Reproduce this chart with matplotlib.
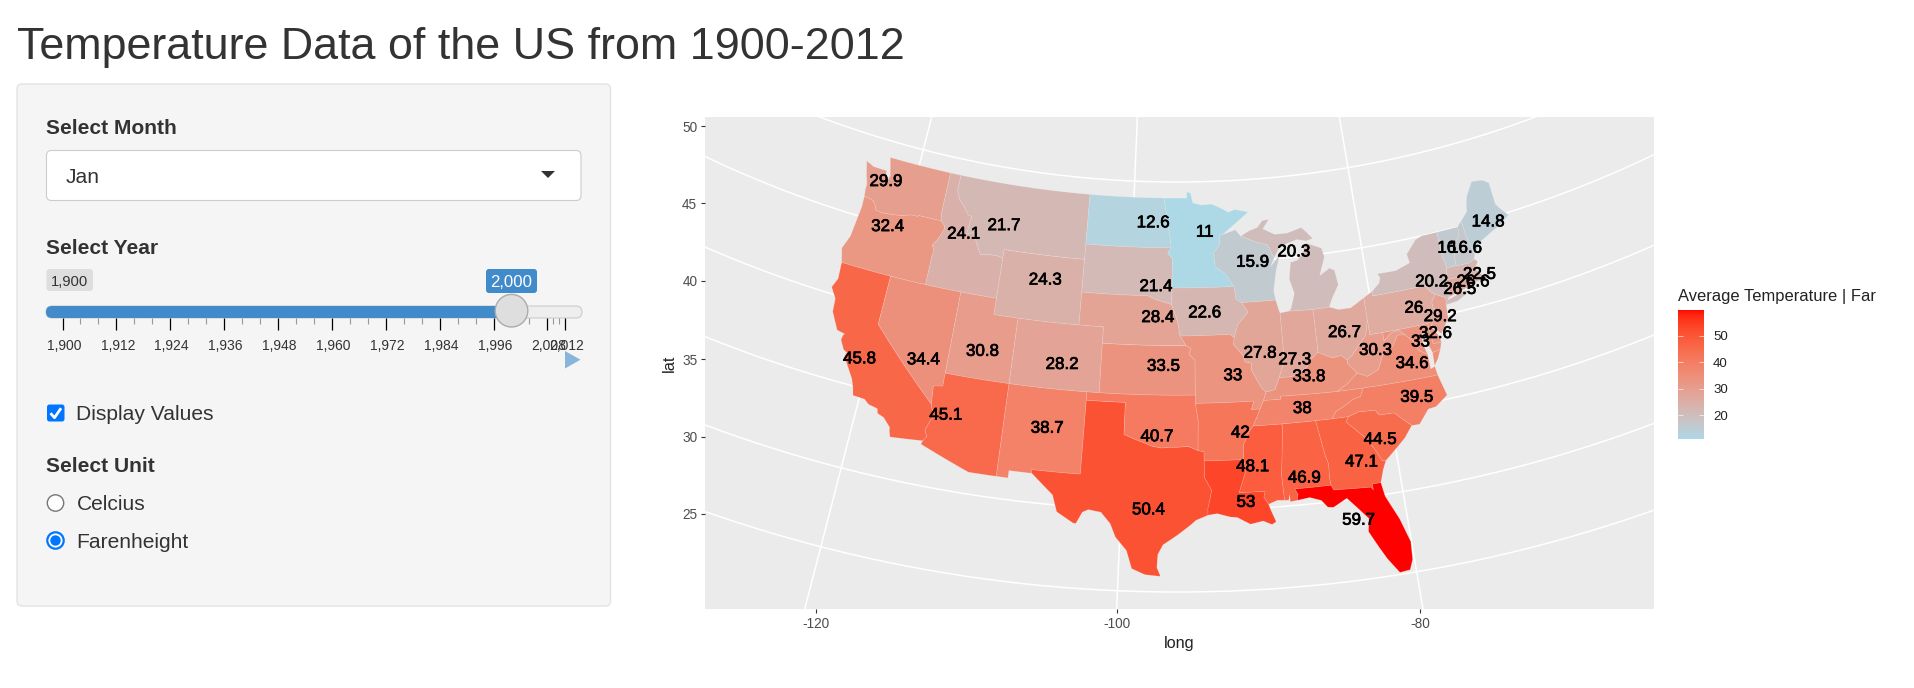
"""Shiny app screenshot: US temperature map (Albers) with its sidebar controls."""
import matplotlib
matplotlib.use("Agg")
import matplotlib.patheffects as pe
import matplotlib.pyplot as plt
import numpy as np
from matplotlib.colors import ListedColormap, Normalize
from matplotlib.patches import Circle, FancyBboxPatch, Polygon

plt.rcParams["font.family"] = ["Liberation Sans", "DejaVu Sans"]

W, H = 1914, 688

# ---- data ----------------------------------------------------------------
STATES = ["WA", "OR", "ID", "MT", "WY", "ND", "SD", "NE", "CA", "NV", "UT", "CO",
          "KS", "MN", "WI", "MI", "IA", "IL", "IN", "OH", "WV", "MO", "KY", "VA",
          "MD", "DE", "NJ", "PA", "NY", "ME", "VT", "NH", "MA", "RI", "CT", "AZ",
          "NM", "TX", "OK", "AR", "TN", "NC", "SC", "GA", "AL", "MS", "LA", "FL"]
TEMP_F = [29.9, 32.4, 24.1, 21.7, 24.3, 12.6, 21.4, 28.4, 45.8, 34.4, 30.8, 28.2,
          33.5, 11, 15.9, 20.3, 22.6, 27.8, 27.3, 26.7, 30.3, 33, 33.8, 34.6,
          33, 32.6, 29.2, 26, 20.2, 14.8, 16, 16.6, 22.5, 26.6, 26.5, 45.1,
          38.7, 50.4, 40.7, 42, 38, 39.5, 44.5, 47.1, 46.9, 48.1, 53, 59.7]
# label anchors in projected map units
LABEL_X = [-.311, -.309, -.228, -.185, -.141, -.026, -.023, -.021, -.339, -.271, -.208, -.123,
           -.015, .029, .080, .124, .029, .088, .125, .178, .211, .059, .140, .250,
           .259, .275, .280, .252, .271, .331, .287, .307, .322, .315, .301, -.247,
           -.139, -.031, -.022, .067, .133, .255, .216, .196, .135, .080, .073, .193]
LABEL_Y = [.219, .171, .163, .172, .114, .175, .107, .074, .030, .029, .038, .024,
           .022, .165, .133, .144, .079, .036, .029, .058, .039, .012, .011, .025,
           .048, .057, .075, .084, .112, .176, .148, .148, .120, .112, .104, -.030,
           -.044, -.131, -.053, -.049, -.023, -.011, -.056, -.080, -.097, -.085, -.123, -.142]

# state outlines, (lon, lat)
OUTLINES = {
    "WA": [[(-124.0, 46.25), (-124.1, 46.7), (-124.1, 47.0), (-124.4, 47.6), (-124.73, 48.38), (-124.0, 48.17),
            (-123.2, 48.15), (-122.75, 48.15), (-122.6, 47.6), (-122.45, 47.5), (-122.3, 47.9), (-122.5, 48.4),
            (-122.75, 49.0), (-117.03, 49.0), (-117.04, 46.42), (-116.92, 46.0), (-118.98, 46.0), (-119.0, 45.93),
            (-119.6, 45.92), (-120.5, 45.72), (-121.2, 45.65), (-122.2, 45.58), (-122.75, 45.65), (-122.8, 45.85),
            (-123.15, 46.15), (-123.4, 46.2)]],
    "OR": [[(-124.0, 46.25), (-123.4, 46.2), (-123.15, 46.15), (-122.8, 45.85), (-122.75, 45.65), (-122.2, 45.58),
            (-121.2, 45.65), (-120.5, 45.72), (-119.6, 45.92), (-119.0, 45.93), (-118.98, 46.0), (-116.92, 46.0),
            (-116.55, 45.75), (-116.47, 45.6), (-116.7, 45.1), (-116.85, 44.85), (-117.2, 44.45), (-117.05, 44.23),
            (-116.95, 44.1), (-117.03, 43.8), (-117.03, 42.0), (-124.21, 42.0), (-124.55, 42.84), (-124.15, 43.7),
            (-124.05, 44.7), (-123.95, 45.6)]],
    "ID": [[(-117.03, 49.0), (-116.05, 49.0), (-116.05, 48.0), (-115.7, 47.5), (-115.3, 47.25), (-114.7, 46.7),
            (-114.35, 46.65), (-114.5, 45.55), (-113.95, 45.7), (-113.45, 45.05), (-113.0, 44.45), (-112.3, 44.55),
            (-111.5, 44.55), (-111.05, 44.48), (-111.05, 42.0), (-117.03, 42.0), (-117.03, 43.8), (-116.95, 44.1),
            (-117.05, 44.23), (-117.2, 44.45), (-116.85, 44.85), (-116.7, 45.1), (-116.47, 45.6), (-116.55, 45.75),
            (-116.92, 46.0), (-117.04, 46.42)]],
    "MT": [[(-116.05, 49.0), (-104.05, 49.0), (-104.05, 45.0), (-111.05, 45.0), (-111.05, 44.48), (-111.5, 44.55),
            (-112.3, 44.55), (-113.0, 44.45), (-113.45, 45.05), (-113.95, 45.7), (-114.5, 45.55), (-114.35, 46.65),
            (-114.7, 46.7), (-115.3, 47.25), (-115.7, 47.5), (-116.05, 48.0)]],
    "WY": [[(-111.05, 45.0), (-104.05, 45.0), (-104.05, 41.0), (-111.05, 41.0)]],
    "ND": [[(-104.05, 49.0), (-97.23, 49.0), (-97.1, 48.4), (-96.85, 47.5), (-96.6, 46.3), (-96.56, 45.94),
            (-104.05, 45.94)]],
    "SD": [[(-104.05, 45.94), (-96.56, 45.94), (-96.85, 45.6), (-96.45, 45.3), (-96.45, 43.5), (-96.5, 42.49),
            (-97.9, 42.8), (-98.5, 43.0), (-104.05, 43.0)]],
    "NE": [[(-104.05, 43.0), (-98.5, 43.0), (-97.9, 42.8), (-96.5, 42.49), (-96.1, 41.7), (-95.9, 41.2),
            (-95.85, 40.7), (-95.31, 40.0), (-102.05, 40.0), (-102.05, 41.0), (-104.05, 41.0)]],
    "CA": [[(-124.21, 42.0), (-120.0, 42.0), (-120.0, 39.0), (-114.63, 35.0), (-114.57, 34.8), (-114.14, 34.3),
            (-114.43, 34.08), (-114.72, 33.4), (-114.5, 33.0), (-114.72, 32.72), (-117.12, 32.53), (-117.25, 32.85),
            (-117.3, 33.1), (-117.9, 33.6), (-118.4, 33.75), (-118.5, 34.03), (-119.2, 34.15), (-119.6, 34.4),
            (-120.5, 34.45), (-120.65, 34.9), (-120.9, 35.4), (-121.9, 36.6), (-121.8, 36.85), (-122.1, 36.97),
            (-122.5, 37.5), (-122.45, 37.8), (-122.35, 37.9), (-123.0, 38.0), (-123.75, 39.0), (-123.85, 39.8),
            (-124.4, 40.4), (-124.1, 41.0)]],
    "NV": [[(-120.0, 42.0), (-114.04, 42.0), (-114.04, 36.2), (-114.74, 36.1), (-114.63, 35.0), (-120.0, 39.0)]],
    "UT": [[(-114.04, 42.0), (-111.05, 42.0), (-111.05, 41.0), (-109.05, 41.0), (-109.05, 37.0), (-114.04, 37.0)]],
    "CO": [[(-109.05, 41.0), (-102.05, 41.0), (-102.05, 37.0), (-109.05, 37.0)]],
    "KS": [[(-102.05, 40.0), (-95.31, 40.0), (-94.9, 39.8), (-95.1, 39.5), (-94.61, 39.1), (-94.62, 37.0),
            (-102.05, 37.0)]],
    "MN": [[(-97.23, 49.0), (-95.15, 49.0), (-95.15, 49.38), (-94.8, 49.3), (-94.6, 48.7), (-93.8, 48.55),
            (-92.9, 48.6), (-92.0, 48.3), (-91.4, 48.05), (-90.8, 48.2), (-89.6, 48.0), (-90.9, 47.3), (-92.0, 46.7),
            (-92.29, 46.66), (-92.29, 46.1), (-92.85, 45.6), (-92.75, 44.75), (-91.9, 44.3), (-91.22, 43.5),
            (-96.45, 43.5), (-96.45, 45.3), (-96.85, 45.6), (-96.56, 45.94), (-96.6, 46.3), (-96.85, 47.5),
            (-97.1, 48.4)]],
    "WI": [[(-92.29, 46.66), (-92.0, 46.7), (-90.85, 46.95), (-90.4, 46.55), (-89.1, 46.13), (-88.1, 45.9),
            (-87.8, 45.35), (-87.6, 45.1), (-88.0, 44.55), (-87.1, 45.25), (-87.55, 44.3), (-87.9, 43.1),
            (-87.8, 42.5), (-90.65, 42.5), (-91.1, 42.7), (-91.22, 43.5), (-91.9, 44.3), (-92.75, 44.75),
            (-92.85, 45.6), (-92.29, 46.1)]],
    "MI": [[(-90.4, 46.55), (-89.6, 46.85), (-88.9, 47.0), (-88.4, 47.4), (-87.8, 47.45), (-88.4, 46.9),
            (-87.4, 46.5), (-86.3, 46.5), (-85.0, 46.75), (-84.6, 46.45), (-84.1, 46.0), (-84.7, 45.9),
            (-85.5, 46.05), (-86.5, 45.85), (-87.1, 45.65), (-87.6, 45.1), (-87.8, 45.35), (-88.1, 45.9),
            (-89.1, 46.13)],
           [(-86.8, 41.76), (-84.8, 41.7), (-83.45, 41.73), (-83.1, 42.25), (-82.45, 43.0), (-82.6, 43.9),
            (-83.0, 44.07), (-83.9, 43.7), (-83.3, 44.8), (-83.45, 45.35), (-84.75, 45.78), (-85.05, 45.3),
            (-85.6, 44.8), (-86.25, 44.7), (-86.5, 43.7), (-86.2, 42.8), (-86.6, 41.9)]],
    "IA": [[(-96.45, 43.5), (-91.22, 43.5), (-91.1, 42.7), (-90.65, 42.5), (-90.15, 41.9), (-91.05, 41.2),
            (-91.42, 40.38), (-91.73, 40.61), (-95.77, 40.58), (-95.85, 40.7), (-95.9, 41.2), (-96.1, 41.7),
            (-96.5, 42.49)]],
    "IL": [[(-90.65, 42.5), (-87.8, 42.5), (-87.6, 41.85), (-87.53, 41.7), (-87.53, 39.35), (-87.6, 38.7),
            (-88.05, 37.8), (-88.45, 37.1), (-89.15, 37.0), (-89.5, 37.3), (-90.2, 38.4), (-90.15, 38.8),
            (-90.65, 38.9), (-90.75, 39.25), (-91.5, 40.0), (-91.42, 40.38), (-91.05, 41.2), (-90.15, 41.9)]],
    "IN": [[(-87.53, 41.7), (-86.8, 41.76), (-84.8, 41.7), (-84.8, 39.1), (-85.4, 38.73), (-85.8, 38.28),
            (-86.5, 37.95), (-87.1, 37.8), (-88.05, 37.8), (-87.6, 38.7), (-87.53, 39.35)]],
    "OH": [[(-84.8, 41.7), (-83.45, 41.73), (-82.7, 41.5), (-81.7, 41.5), (-80.52, 41.98), (-80.52, 40.64),
            (-80.85, 39.7), (-81.75, 39.0), (-82.2, 38.6), (-82.6, 38.4), (-83.0, 38.72), (-83.7, 38.65),
            (-84.25, 38.85), (-84.8, 39.1)]],
    "WV": [[(-81.97, 37.54), (-81.22, 37.24), (-80.3, 37.55), (-79.65, 38.55), (-78.87, 38.77), (-78.35, 39.4),
            (-77.72, 39.32), (-78.2, 39.68), (-78.8, 39.6), (-79.48, 39.2), (-79.48, 39.72), (-80.52, 39.72),
            (-80.52, 40.64), (-80.85, 39.7), (-81.75, 39.0), (-82.2, 38.6), (-82.6, 38.4), (-82.6, 38.17)]],
    "MO": [[(-95.77, 40.58), (-91.73, 40.61), (-91.42, 40.38), (-91.5, 40.0), (-90.75, 39.25), (-90.65, 38.9),
            (-90.15, 38.8), (-90.2, 38.4), (-89.5, 37.3), (-89.15, 37.0), (-89.4, 36.5), (-89.7, 36.0),
            (-90.37, 36.0), (-90.15, 36.5), (-94.62, 36.5), (-94.62, 37.0), (-94.61, 39.1), (-95.1, 39.5),
            (-94.9, 39.8), (-95.31, 40.0)]],
    "KY": [[(-89.15, 37.0), (-89.4, 36.5), (-88.07, 36.5), (-88.07, 36.68), (-83.68, 36.6), (-82.85, 36.98),
            (-81.97, 37.54), (-82.6, 38.17), (-82.6, 38.4), (-83.0, 38.72), (-83.7, 38.65), (-84.25, 38.85),
            (-84.8, 39.1), (-85.4, 38.73), (-85.8, 38.28), (-86.5, 37.95), (-87.1, 37.8), (-88.05, 37.8),
            (-88.45, 37.1)]],
    "VA": [[(-83.68, 36.6), (-81.68, 36.59), (-75.87, 36.55), (-75.95, 37.1), (-76.3, 37.0), (-76.3, 37.9),
            (-76.95, 38.25), (-77.05, 38.75), (-77.5, 39.1), (-77.72, 39.32), (-78.35, 39.4), (-78.87, 38.77),
            (-79.65, 38.55), (-80.3, 37.55), (-81.22, 37.24), (-81.97, 37.54), (-82.85, 36.98)],
           [(-75.25, 38.03), (-75.9, 37.95), (-75.95, 37.15), (-75.6, 37.5)]],
    "MD": [[(-79.48, 39.72), (-75.8, 39.72), (-75.7, 38.46), (-75.05, 38.45), (-75.25, 38.03), (-75.9, 37.95),
            (-76.2, 38.7), (-76.1, 39.35), (-76.5, 39.1), (-76.45, 38.4), (-76.3, 37.9), (-76.95, 38.25),
            (-77.05, 38.75), (-77.5, 39.1), (-77.72, 39.32), (-78.2, 39.68), (-78.8, 39.6), (-79.48, 39.2)]],
    "DE": [[(-75.8, 39.72), (-75.4, 39.8), (-75.55, 39.5), (-75.1, 38.8), (-75.05, 38.45), (-75.7, 38.46)]],
    "NJ": [[(-74.7, 41.36), (-73.9, 41.0), (-74.0, 40.6), (-74.1, 39.75), (-74.9, 38.95), (-75.5, 39.5),
            (-75.4, 39.8), (-74.75, 40.2), (-75.1, 40.6), (-75.1, 40.95)]],
    "PA": [[(-80.52, 41.98), (-79.76, 42.27), (-79.76, 42.0), (-75.35, 42.0), (-75.05, 41.6), (-74.7, 41.36),
            (-75.1, 40.95), (-75.1, 40.6), (-74.75, 40.2), (-75.4, 39.8), (-75.8, 39.72), (-80.52, 39.72)]],
    "NY": [[(-79.76, 42.27), (-79.05, 42.7), (-78.9, 43.0), (-79.05, 43.27), (-77.5, 43.25), (-76.2, 43.55),
            (-76.3, 44.1), (-75.3, 44.85), (-74.7, 45.0), (-73.35, 45.0), (-73.4, 43.6), (-73.25, 42.75),
            (-73.5, 42.05), (-73.5, 41.3), (-73.65, 41.0), (-73.75, 40.85), (-72.3, 41.15), (-71.9, 41.05),
            (-73.0, 40.65), (-74.0, 40.58), (-73.9, 41.0), (-74.7, 41.36), (-75.05, 41.6), (-75.35, 42.0),
            (-79.76, 42.0)]],
    "ME": [[(-71.08, 45.3), (-70.4, 45.75), (-70.25, 46.2), (-70.0, 46.7), (-69.25, 47.45), (-68.3, 47.35),
            (-67.8, 47.07), (-67.8, 45.7), (-67.45, 45.3), (-67.0, 44.85), (-68.0, 44.4), (-69.0, 44.1),
            (-70.0, 43.75), (-70.7, 43.1), (-71.0, 44.3)]],
    "VT": [[(-73.35, 45.0), (-71.5, 45.01), (-71.55, 44.5), (-72.05, 44.1), (-72.35, 43.5), (-72.45, 42.73),
            (-73.25, 42.75), (-73.4, 43.6)]],
    "NH": [[(-71.5, 45.01), (-71.08, 45.3), (-71.0, 44.3), (-70.7, 43.1), (-70.85, 42.87), (-71.3, 42.7),
            (-72.45, 42.73), (-72.35, 43.5), (-72.05, 44.1), (-71.55, 44.5)]],
    "MA": [[(-73.25, 42.75), (-71.3, 42.7), (-70.85, 42.87), (-70.6, 42.65), (-71.0, 42.3), (-70.55, 41.8),
            (-70.0, 41.78), (-70.0, 42.05), (-69.95, 41.68), (-70.6, 41.55), (-71.15, 41.5), (-71.38, 42.02),
            (-71.8, 42.02), (-73.5, 42.05)]],
    "RI": [[(-71.8, 42.02), (-71.38, 42.02), (-71.15, 41.5), (-71.85, 41.32)]],
    "CT": [[(-73.5, 42.05), (-71.8, 42.02), (-71.85, 41.32), (-73.65, 41.0), (-73.5, 41.3)]],
    "AZ": [[(-114.04, 37.0), (-109.05, 37.0), (-109.05, 31.33), (-111.07, 31.33), (-114.81, 32.5), (-114.72, 32.72),
            (-114.5, 33.0), (-114.72, 33.4), (-114.43, 34.08), (-114.14, 34.3), (-114.57, 34.8), (-114.63, 35.0),
            (-114.74, 36.1), (-114.04, 36.2)]],
    "NM": [[(-109.05, 37.0), (-103.0, 37.0), (-103.04, 32.0), (-106.62, 32.0), (-106.53, 31.78), (-108.2, 31.78),
            (-108.2, 31.33), (-109.05, 31.33)]],
    "TX": [[(-103.0, 36.5), (-100.0, 36.5), (-100.0, 34.56), (-99.2, 34.3), (-98.5, 34.1), (-97.9, 33.9),
            (-97.2, 33.8), (-96.6, 33.85), (-96.0, 33.85), (-95.2, 33.9), (-94.48, 33.64), (-94.04, 33.55),
            (-94.04, 32.0), (-93.55, 31.2), (-93.7, 30.6), (-93.85, 30.1), (-93.85, 29.7), (-94.7, 29.4),
            (-95.1, 29.1), (-96.0, 28.5), (-97.0, 27.9), (-97.35, 27.3), (-97.4, 26.5), (-97.15, 25.96),
            (-98.2, 26.05), (-99.1, 26.4), (-99.5, 27.5), (-100.3, 28.3), (-100.7, 29.1), (-101.4, 29.77),
            (-102.3, 29.88), (-102.7, 29.7), (-103.1, 28.98), (-103.3, 29.0), (-104.5, 29.6), (-104.9, 30.6),
            (-106.53, 31.78), (-106.62, 32.0), (-103.04, 32.0)]],
    "OK": [[(-103.0, 37.0), (-94.62, 37.0), (-94.62, 36.5), (-94.43, 35.4), (-94.48, 33.64), (-95.2, 33.9),
            (-96.0, 33.85), (-96.6, 33.85), (-97.2, 33.8), (-97.9, 33.9), (-98.5, 34.1), (-99.2, 34.3),
            (-100.0, 34.56), (-100.0, 36.5), (-103.0, 36.5)]],
    "AR": [[(-94.62, 36.5), (-90.15, 36.5), (-90.37, 36.0), (-89.7, 36.0), (-90.3, 35.0), (-90.6, 34.7),
            (-91.1, 33.9), (-91.17, 33.0), (-94.04, 33.0), (-94.04, 33.55), (-94.48, 33.64), (-94.43, 35.4)]],
    "TN": [[(-90.3, 35.0), (-88.2, 35.0), (-85.6, 35.0), (-84.32, 35.0), (-84.0, 35.4), (-83.1, 35.75),
            (-82.6, 36.0), (-82.0, 36.1), (-81.68, 36.59), (-83.68, 36.6), (-88.07, 36.68), (-88.07, 36.5),
            (-89.4, 36.5), (-89.7, 36.0)]],
    "NC": [[(-84.32, 35.0), (-83.11, 35.0), (-82.3, 35.2), (-81.05, 35.15), (-80.8, 34.82), (-79.67, 34.8),
            (-78.55, 33.86), (-77.95, 33.85), (-77.1, 34.65), (-76.5, 34.7), (-75.5, 35.25), (-75.87, 36.55),
            (-81.68, 36.59), (-82.0, 36.1), (-82.6, 36.0), (-83.1, 35.75), (-84.0, 35.4)]],
    "SC": [[(-83.11, 35.0), (-82.3, 35.2), (-81.05, 35.15), (-80.8, 34.82), (-79.67, 34.8), (-78.55, 33.86),
            (-79.2, 33.2), (-79.9, 32.7), (-80.85, 32.03), (-81.1, 32.05), (-81.4, 32.6), (-81.9, 33.4),
            (-82.75, 34.2), (-83.35, 34.7)]],
    "GA": [[(-85.6, 35.0), (-83.11, 35.0), (-83.35, 34.7), (-82.75, 34.2), (-81.9, 33.4), (-81.4, 32.6),
            (-81.1, 32.05), (-80.85, 32.03), (-81.15, 31.5), (-81.45, 30.75), (-82.05, 30.75), (-82.05, 30.37),
            (-82.2, 30.57), (-84.86, 30.7), (-85.0, 31.0), (-85.05, 31.5), (-85.0, 32.3), (-85.18, 32.87)]],
    "AL": [[(-88.2, 35.0), (-85.6, 35.0), (-85.18, 32.87), (-85.0, 32.3), (-85.05, 31.5), (-85.0, 31.0),
            (-87.6, 31.0), (-87.4, 30.65), (-87.5, 30.3), (-88.0, 30.25), (-88.0, 30.7), (-88.1, 30.35),
            (-88.4, 30.37), (-88.47, 31.9), (-88.1, 34.9)]],
    "MS": [[(-91.17, 33.0), (-91.1, 33.9), (-90.6, 34.7), (-90.3, 35.0), (-88.2, 35.0), (-88.1, 34.9),
            (-88.47, 31.9), (-88.4, 30.37), (-88.9, 30.4), (-89.55, 30.2), (-89.85, 30.65), (-89.73, 31.0),
            (-91.6, 31.0), (-91.0, 32.4)]],
    "LA": [[(-94.04, 33.0), (-91.17, 33.0), (-91.0, 32.4), (-91.6, 31.0), (-89.73, 31.0), (-89.85, 30.65),
            (-89.55, 30.2), (-89.4, 29.8), (-89.1, 29.1), (-89.4, 28.95), (-90.0, 29.2), (-90.9, 29.05),
            (-91.8, 29.5), (-92.3, 29.55), (-93.2, 29.78), (-93.85, 29.7), (-93.85, 30.1), (-93.7, 30.6),
            (-93.55, 31.2), (-94.04, 32.0)]],
    "FL": [[(-87.6, 31.0), (-85.0, 31.0), (-84.86, 30.7), (-82.2, 30.57), (-82.05, 30.37), (-82.05, 30.75),
            (-81.45, 30.75), (-81.3, 29.9), (-80.55, 28.4), (-80.05, 26.9), (-80.13, 25.8), (-80.4, 25.2),
            (-81.1, 25.13), (-81.8, 26.1), (-82.2, 26.8), (-82.8, 27.9), (-82.65, 28.7), (-83.4, 29.5),
            (-84.0, 30.1), (-85.0, 29.65), (-85.4, 29.7), (-85.8, 30.15), (-86.6, 30.4), (-87.5, 30.3),
            (-87.4, 30.65)]],
}

LON_TICKS = [-120, -100, -80]
LAT_TICKS = [25, 30, 35, 40, 45, 50]
LEGEND_TICKS = [20, 30, 40, 50]
SLIDER_MAJOR = [1900, 1912, 1924, 1936, 1948, 1960, 1972, 1984, 1996, 2008, 2012]
SLIDER_MINOR = [1904, 1908, 1916, 1920, 1928, 1932, 1940, 1944, 1952, 1956, 1964, 1968,
                1976, 1980, 1988, 1992, 2000, 2004, 2009.3, 2010.6]
SLIDER_VALUE = 2000


# ---- albers projection (same parallels as the picture's graticule) --------
N = (np.sin(np.radians(29.5)) + np.sin(np.radians(45.5))) / 2
C = np.cos(np.radians(29.5)) ** 2 + 2 * N * np.sin(np.radians(29.5))
RHO0 = np.sqrt(C - 2 * N * np.sin(np.radians(37.5))) / N


def project(lon, lat):
    lon, lat = np.asarray(lon, float), np.asarray(lat, float)
    rho = np.sqrt(C - 2 * N * np.sin(np.radians(lat))) / N
    theta = np.radians(N * (lon + 96))
    return rho * np.sin(theta), RHO0 - rho * np.cos(theta)


def densify(points, step=0.4):
    # straight borders have to bend with the projection
    pts = list(points) + [points[0]]
    lon, lat = [], []
    for (x0, y0), (x1, y1) in zip(pts[:-1], pts[1:]):
        n = max(int(max(abs(x1 - x0), abs(y1 - y0)) / step), 1)
        lon.extend(x0 + (x1 - x0) * i / n for i in range(n))
        lat.extend(y0 + (y1 - y0) * i / n for i in range(n))
    return lon, lat


# ---- fill colours: ggplot gradient, interpolated in Lab -------------------
WHITE = np.array([0.95047, 1.0, 1.08883])
M = np.array([[0.4124564, 0.3575761, 0.1804375],
              [0.2126729, 0.7151522, 0.0721750],
              [0.0193339, 0.1191920, 0.9503041]])


def to_lab(rgb):
    lin = np.where(rgb > 0.04045, ((rgb + 0.055) / 1.055) ** 2.4, rgb / 12.92)
    t = M @ lin / WHITE
    f = np.where(t > 0.008856, np.cbrt(t), 7.787 * t + 16 / 116)
    return np.array([116 * f[1] - 16, 500 * (f[0] - f[1]), 200 * (f[1] - f[2])])


def from_lab(lab):
    fy = (lab[0] + 16) / 116
    f = np.array([fy + lab[1] / 500, fy, fy - lab[2] / 200])
    t = np.where(f ** 3 > 0.008856, f ** 3, (f - 16 / 116) / 7.787) * WHITE
    lin = np.clip(np.linalg.inv(M) @ t, 0, 1)
    return np.where(lin > 0.0031308, 1.055 * lin ** (1 / 2.4) - 0.055, 12.92 * lin)


low = to_lab(np.array([0xAD, 0xD8, 0xE6]) / 255)
high = to_lab(np.array([1.0, 0.0, 0.0]))
cmap = ListedColormap([from_lab(low + (high - low) * t) for t in np.linspace(0, 1, 256)])
norm = Normalize(min(TEMP_F), max(TEMP_F))

fig = plt.figure(figsize=(W / 100, H / 100), dpi=100, facecolor="white")


def px_axes(left, top, right, bottom, **kw):
    return fig.add_axes([left / W, 1 - bottom / H, (right - left) / W, (bottom - top) / H], **kw)


# ---- sidebar, drawn in screen pixels --------------------------------------
ui = fig.add_axes([0, 0, 1, 1])
ui.set_xlim(0, W)
ui.set_ylim(H, 0)
ui.axis("off")

INK = "#333333"


def box(x0, y0, x1, y1, fc, ec="none", r=5, lw=0.8):
    ui.add_patch(FancyBboxPatch((x0, y0), x1 - x0, y1 - y0, boxstyle=f"round,pad=0,rounding_size={r}",
                                fc=fc, ec=ec, lw=lw))


def label(x, y, s, size=15.1, color=INK, **kw):
    kw.setdefault("va", "center_baseline")
    ui.text(x, y, s, fontsize=size, color=color, **kw)


label(17, 42.5, "Temperature Data of the US from 1900-2012", size=32.3)

box(17, 84, 610.5, 606, "#F5F5F5", "#E3E3E3", lw=1)
label(46.5, 127, "Select Month", weight="bold")
box(46.5, 150.5, 581, 200.5, "white", "#CCCCCC")
label(65.3, 175.5, "Jan")
ui.add_patch(Polygon([(541, 171), (555, 171), (548, 178)], fc=INK, ec="none"))

label(46.5, 246, "Select Year", weight="bold")
box(46.5, 269, 93, 291, "#DEDEDE", r=3)
label(69.8, 280, "1,900", size=10.6, ha="center")
box(486, 269, 537, 293, "#428BCA", r=3)
label(511.5, 281, "2,000", size=12.1, color="white", ha="center")


def slider_x(year):
    return 62.5 + 4.49 * (year - 1900)


handle_x = slider_x(SLIDER_VALUE)
box(46, 306, 582, 318, "#EEEEEE", "#CCCCCC", r=6)
box(46, 306, handle_x, 318, "#428BCA", r=6)
for year in SLIDER_MINOR:
    ui.plot([slider_x(year)] * 2, [318, 324], color="#999999", lw=0.8, solid_capstyle="butt", zorder=2)
for year in SLIDER_MAJOR:
    ui.plot([slider_x(year)] * 2, [318, 330], color="black", lw=0.9, solid_capstyle="butt", zorder=2)
    label(slider_x(year) + 1.5, 344.5, f"{year:,}", size=10, ha="center")
ui.add_patch(Circle((handle_x, 310.7), 16.3, fc="#DEDEDE", ec="#ABABAB", lw=1, zorder=3))
ui.add_patch(Polygon([(565, 351), (580.5, 359.7), (565, 368.5)], fc="#428BCA", ec="none", alpha=0.6))

box(47, 404.5, 64.5, 421.5, "#0075FF", r=2.5)
ui.plot([50.5, 54.5, 61], [413.2, 417.7, 408.2], color="white", lw=2, solid_capstyle="butt")
label(76.5, 413, "Display Values")

label(46.5, 465, "Select Unit", weight="bold")
ui.add_patch(Circle((55.5, 503), 8.2, fc="white", ec="#767676", lw=1))
label(76.5, 503, "Celcius")
ui.add_patch(Circle((55.5, 540.5), 8.2, fc="white", ec="#0075FF", lw=1.6))
ui.add_patch(Circle((55.5, 540.5), 5.2, fc="#0075FF", ec="none"))
label(76.5, 540.5, "Farenheight")

# ---- map ------------------------------------------------------------------
ax = px_axes(705, 117, 1654, 609)
ax.set_facecolor("#EBEBEB")
ax.set_xlim(-.5037, .5080)
ax.set_ylim(-.2367, .2878)
for spine in ax.spines.values():
    spine.set_visible(False)

for lat in LAT_TICKS:
    lon_line = np.linspace(-140, -50, 200)
    ax.plot(*project(lon_line, np.full_like(lon_line, lat)), color="white", lw=1.1, zorder=1)
for lon in LON_TICKS:
    lat_line = np.linspace(15, 60, 100)
    ax.plot(*project(np.full_like(lat_line, lon), lat_line), color="white", lw=1.1, zorder=1)

for state, temp in zip(STATES, TEMP_F):
    for part in OUTLINES[state]:
        x, y = project(*densify(part))
        ax.fill(x, y, fc=cmap(norm(temp)), ec=(1, 1, 1, 0.18), lw=0.5, zorder=2)

# each value is overdrawn in the original, so plain text needs a thin stroke
for lx, ly, temp in zip(LABEL_X, LABEL_Y, TEMP_F):
    ax.text(lx, ly, f"{temp:g}", ha="center", va="center", fontsize=12.2, color="black", zorder=3,
            path_effects=[pe.withStroke(linewidth=0.5, foreground="black")])

# coord_map puts its ticks on the panel's lower and left limits
ax.set_xticks(project(LON_TICKS, [23.8] * len(LON_TICKS))[0])
ax.set_xticklabels([str(v) for v in LON_TICKS])
ax.set_yticks(project([-127.6] * len(LAT_TICKS), LAT_TICKS)[1])
ax.set_yticklabels([str(v) for v in LAT_TICKS])
ax.tick_params(length=3, width=0.8, color="#333333", labelcolor="#4D4D4D", labelsize=9.8, pad=2.5)
ax.set_xlabel("long", fontsize=11.7, labelpad=4, color="#222222")
ax.set_ylabel("lat", fontsize=11.7, labelpad=4, color="#222222")

# ---- legend ---------------------------------------------------------------
cax = px_axes(1678, 310, 1704, 439.3)
cax.imshow(np.linspace(norm.vmin, norm.vmax, 256)[:, None], cmap=cmap, norm=norm, origin="lower",
           extent=[0, 1, norm.vmin, norm.vmax], aspect="auto")
cax.hlines(LEGEND_TICKS, 0, 0.2, color="white", lw=0.6, alpha=0.7)
cax.hlines(LEGEND_TICKS, 0.8, 1, color="white", lw=0.6, alpha=0.7)
cax.set_xticks([])
cax.yaxis.tick_right()
cax.set_yticks(LEGEND_TICKS)
cax.tick_params(length=0, labelsize=9.5, pad=6.5, labelcolor="#222222")
for spine in cax.spines.values():
    spine.set_visible(False)
ui.text(1678, 294.5, "Average Temperature | Far", fontsize=11.9, color="#222222", va="center_baseline")

fig.savefig("out.png", dpi=100, facecolor="white")
